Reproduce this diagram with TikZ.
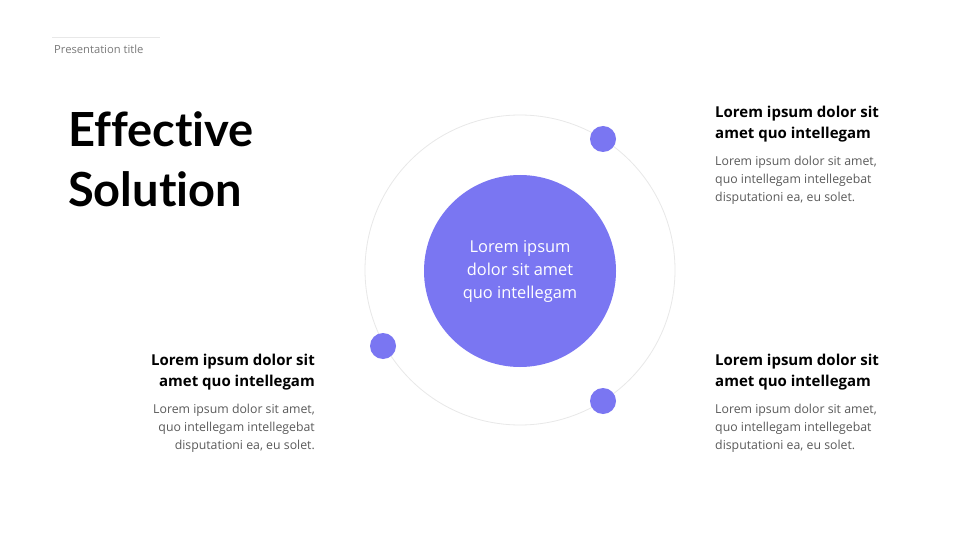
\documentclass[tikz,border=0pt]{standalone}
\usepackage{fontspec}
\setmainfont{Open Sans}
\newfontfamily\titlefont{Lato}[RawFeature=-liga]
\definecolor{accent}{HTML}{7A76F2}
\definecolor{ringgray}{HTML}{E8E8E8}
\definecolor{bodygray}{HTML}{5A5A5A}
\definecolor{titlegray}{HTML}{7A7A7A}
\begin{document}
\begin{tikzpicture}[x=1pt,y=-1pt,
  headtext/.style={inner sep=0pt,font=\bfseries\fontsize{15}{21}\selectfont,text=black},
  bodytext/.style={inner sep=0pt,font=\fontsize{12.3}{18}\selectfont,text=bodygray},
  dot/.style={circle,fill=accent,minimum size=26pt,inner sep=0pt},
]
\useasboundingbox (0,0) rectangle (960,540);
\fill[white] (0,0) rectangle (960,540);
% header
\coordinate (hl) at (52,37);
\coordinate (hr) at (160,37);
\draw[ringgray,line width=0.8pt] (hl) -- (hr);
\node[anchor=base west,inner sep=0pt,font=\fontsize{11.2}{13}\selectfont,text=titlegray] (ptitle) at (54,54) {Presentation title};
% title
\node[anchor=base west,inner sep=0pt,font=\titlefont\bfseries\fontsize{47}{60}\selectfont] (title) at (68,147) {Effective};
\node[anchor=base west,inner sep=0pt,font=\titlefont\bfseries\fontsize{47}{60}\selectfont] (title2) at (68,206) {Solution};
% ring
\node[circle,draw=ringgray,line width=0.8pt,minimum size=310pt,inner sep=0pt] (ring) at (520,270) {};
\node[circle,fill=accent,minimum size=192pt,inner sep=0pt,align=center,text=white,font=\fontsize{16.4}{23}\selectfont] (core) at (520,271) {Lorem ipsum\\dolor sit amet\\quo intellegam};
\node[dot] (d1) at (603,139) {};
\node[dot] (d2) at (383,346) {};
\node[dot] (d3) at (603,401) {};
% right top
\node[headtext,anchor=north west,align=left] (h1) at (715,105.5) {Lorem ipsum dolor sit\\amet quo intellegam};
\node[bodytext,anchor=north west,align=left] (b1) at (715,156) {Lorem ipsum dolor sit amet,\\quo intellegam intellegebat\\disputationi ea, eu solet.};
% right bottom
\node[headtext,anchor=north west,align=left] (h3) at (715,353.5) {Lorem ipsum dolor sit\\amet quo intellegam};
\node[bodytext,anchor=north west,align=left] (b3) at (715,404) {Lorem ipsum dolor sit amet,\\quo intellegam intellegebat\\disputationi ea, eu solet.};
% left bottom
\node[headtext,anchor=north east,align=right] (h2) at (315,353.5) {Lorem ipsum dolor sit\\amet quo intellegam};
\node[bodytext,anchor=north east,align=right] (b2) at (315,404) {Lorem ipsum dolor sit amet,\\quo intellegam intellegebat\\disputationi ea, eu solet.};
\end{tikzpicture}
\end{document}
